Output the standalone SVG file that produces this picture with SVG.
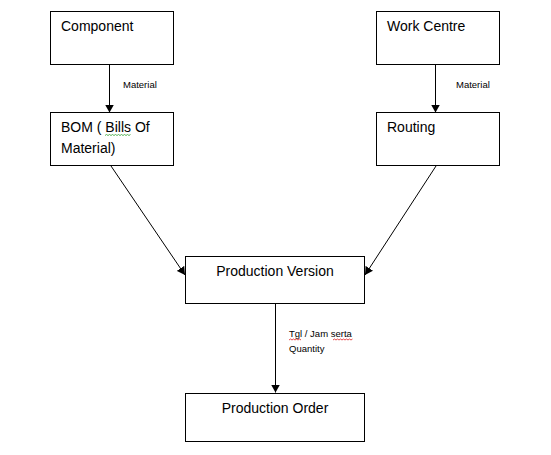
<svg xmlns="http://www.w3.org/2000/svg" width="551" height="455" viewBox="0 0 551 455">
<style>
.box{fill:#fff;stroke:#000;stroke-width:1}
.t{font-family:"Liberation Sans",Arial,sans-serif;font-size:14px;fill:#000}
.s{font-family:"Liberation Sans",Arial,sans-serif;font-size:9.5px;fill:#000}
.c{stroke:#000;stroke-width:1;fill:none;marker-end:url(#ah)}
.w{stroke:#e02020;stroke-width:0.8;fill:none}
.g{stroke:#30a030;stroke-width:0.8;fill:none}
</style>
<defs>
<marker id="ah" markerWidth="8" markerHeight="9" refX="8" refY="4.5" orient="auto" markerUnits="userSpaceOnUse">
<path d="M0,0 L8,4.5 L0,9 Z" fill="#000"/>
</marker>
</defs>
<rect width="551" height="455" fill="#fff"/>
<g id="connectors">
<line class="c" x1="109.5" y1="64.5" x2="109.5" y2="112.5"/>
<line class="c" x1="435.5" y1="64.5" x2="435.5" y2="112.5"/>
<line class="c" x1="111" y1="166" x2="185" y2="275"/>
<line class="c" x1="436" y1="166" x2="365" y2="275"/>
<line class="c" x1="275.5" y1="303.5" x2="275.5" y2="392.5"/>
<text class="s" x="123" y="88">Material</text>
<text class="s" x="456" y="88">Material</text>
<text class="s" x="289" y="337">Tgl / Jam serta</text>
<text class="s" x="289" y="352">Quantity</text>
<path class="w" d="M289,340 l1.5,-1 l1.5,1 l1.5,-1 l1.5,1 l1.5,-1 l1.5,1 l1.5,-1 l1.5,1"/>
<path class="w" d="M333,340 l1.5,-1 l1.5,1 l1.5,-1 l1.5,1 l1.5,-1 l1.5,1 l1.5,-1 l1.5,1 l1.5,-1 l1.5,1 l1.5,-1 l1.5,1 l1.5,-1"/>
</g>
<g id="component">
<rect class="box" x="50.5" y="11.5" width="123" height="53"/>
<text class="t" x="61" y="31">Component</text>
</g>
<g id="work-centre">
<rect class="box" x="376.5" y="11.5" width="123" height="53"/>
<text class="t" x="387" y="31">Work Centre</text>
</g>
<g id="bom">
<rect class="box" x="50.5" y="112.5" width="123" height="53"/>
<text class="t" x="61" y="132">BOM ( Bills Of</text>
<text class="t" x="61" y="153">Material)</text>
<path class="g" d="M105,135.5 l1.5,-1 l1.5,1 l1.5,-1 l1.5,1 l1.5,-1 l1.5,1 l1.5,-1 l1.5,1 l1.5,-1 l1.5,1 l1.5,-1 l1.5,1 l1.5,-1 l1.5,1 l1.5,-1 l1.5,1 l1.5,-1"/>
</g>
<g id="routing">
<rect class="box" x="376.5" y="112.5" width="123" height="53"/>
<text class="t" x="387" y="132">Routing</text>
</g>
<g id="production-version">
<rect class="box" x="185.5" y="256.5" width="179" height="47"/>
<text class="t" x="275" y="276" text-anchor="middle">Production Version</text>
</g>
<g id="production-order">
<rect class="box" x="185.5" y="393.5" width="179" height="48"/>
<text class="t" x="275" y="413" text-anchor="middle">Production Order</text>
</g>
</svg>
